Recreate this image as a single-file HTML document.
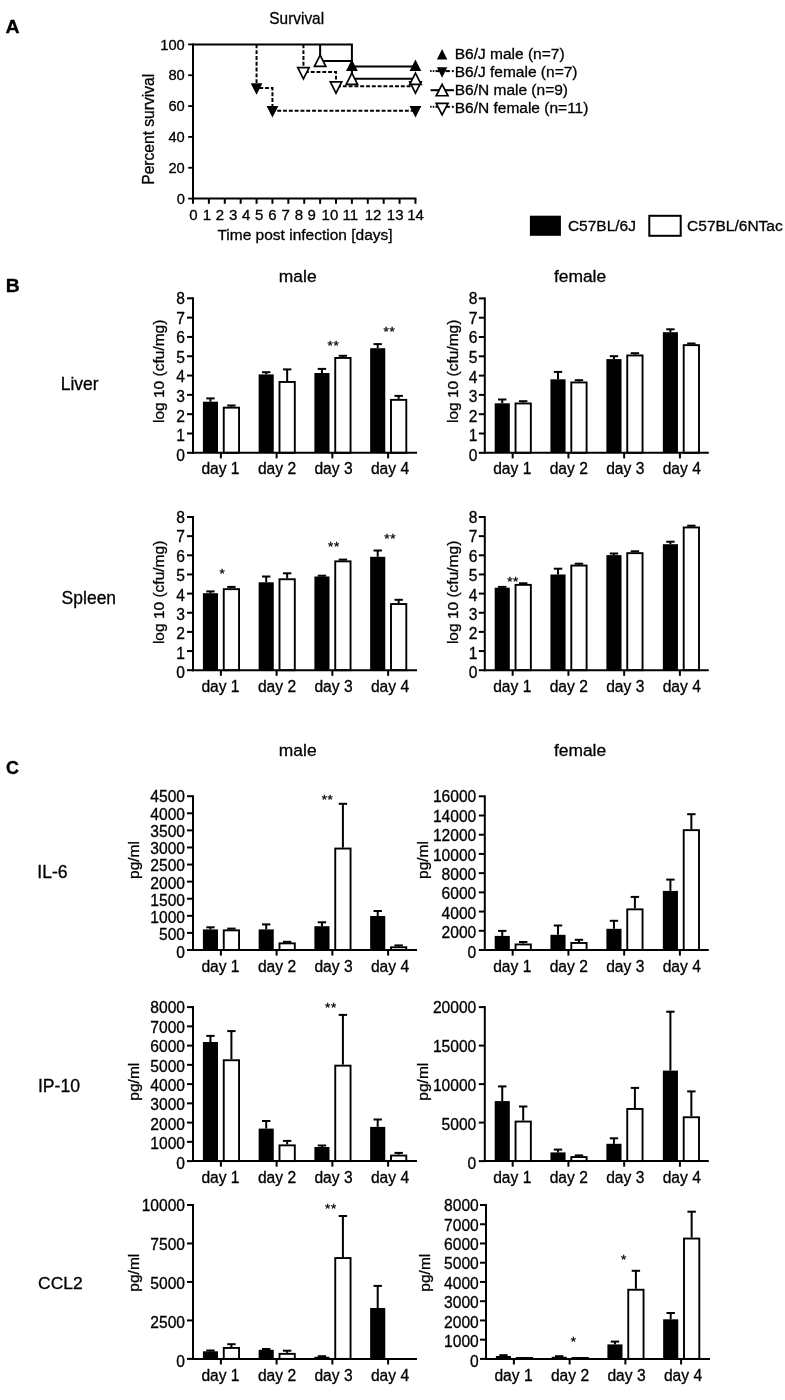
<!DOCTYPE html>
<html lang="en">
<head>
<meta charset="utf-8">
<title>Figure</title>
<style>
html,body{margin:0;padding:0;background:#fff;}
body{width:785px;height:1400px;overflow:hidden;}
svg{display:block;}
svg text{font-family:"Liberation Sans",Arial,Helvetica,sans-serif;fill:#000;stroke:#000;stroke-width:0.3px;}
</style>
</head>
<body>
<svg width="785" height="1400" viewBox="0 0 785 1400">
<rect x="0" y="0" width="785" height="1400" fill="#fff"/>

<text transform="translate(5.50,32.70) scale(1.09,1)" text-anchor="start" font-size="17.9" font-weight="bold">A</text>
<text transform="translate(5.70,292.40) scale(1.08,1)" text-anchor="start" font-size="17.9" font-weight="bold">B</text>
<text transform="translate(6.00,774.00)" text-anchor="start" font-size="17.9" font-weight="bold">C</text>
<g id="panelA">
<text transform="translate(296.70,23.80) scale(0.922,1)" text-anchor="middle" font-size="16.7">Survival</text>
<polyline points="256.56,44.40 256.56,88.10 272.45,88.10 272.45,110.70 415.46,110.70" fill="none" stroke="#000" stroke-width="2.0" stroke-linejoin="miter" stroke-dasharray="3.9 1.9"/>
<polyline points="303.44,44.40 303.44,71.90 336.01,71.90 336.01,86.20 415.46,86.20" fill="none" stroke="#000" stroke-width="2.0" stroke-linejoin="miter" stroke-dasharray="3.9 1.9"/>
<polyline points="320.12,44.40 320.12,60.90 351.90,60.90 351.90,78.80 415.46,78.80" fill="none" stroke="#000" stroke-width="2.0" stroke-linejoin="miter"/>
<polyline points="193.00,44.40 351.90,44.40 351.90,66.40 415.46,66.40" fill="none" stroke="#000" stroke-width="2.0" stroke-linejoin="miter"/>
<polygon points="250.66,83.35 262.46,83.35 256.56,94.85" fill="#000"/>
<polygon points="266.55,105.95 278.35,105.95 272.45,117.45" fill="#000"/>
<polygon points="409.56,105.95 421.36,105.95 415.46,117.45" fill="#000"/>
<polygon points="297.74,67.60 309.14,67.60 303.44,78.80" fill="#fff" stroke="#000" stroke-width="1.7" stroke-linejoin="miter"/>
<polygon points="330.31,81.90 341.71,81.90 336.01,93.10" fill="#fff" stroke="#000" stroke-width="1.7" stroke-linejoin="miter"/>
<polygon points="409.76,81.90 421.16,81.90 415.46,93.10" fill="#fff" stroke="#000" stroke-width="1.7" stroke-linejoin="miter"/>
<polygon points="314.42,66.40 325.82,66.40 320.12,55.20" fill="#fff" stroke="#000" stroke-width="1.7" stroke-linejoin="miter"/>
<polygon points="346.20,84.30 357.60,84.30 351.90,73.10" fill="#fff" stroke="#000" stroke-width="1.7" stroke-linejoin="miter"/>
<polygon points="409.76,84.30 421.16,84.30 415.46,73.10" fill="#fff" stroke="#000" stroke-width="1.7" stroke-linejoin="miter"/>
<polygon points="346.00,70.95 357.80,70.95 351.90,59.45" fill="#000"/>
<polygon points="409.56,70.95 421.36,70.95 415.46,59.45" fill="#000"/>
<line x1="193.00" y1="43.40" x2="193.00" y2="199.60" stroke="#000" stroke-width="2.0" stroke-linecap="butt"/>
<line x1="192.00" y1="198.60" x2="416.46" y2="198.60" stroke="#000" stroke-width="2.0" stroke-linecap="butt"/>
<line x1="188.20" y1="198.60" x2="193.00" y2="198.60" stroke="#000" stroke-width="1.8" stroke-linecap="butt"/>
<text transform="translate(184.80,203.80)" text-anchor="end" font-size="14.7">0</text>
<line x1="188.20" y1="167.76" x2="193.00" y2="167.76" stroke="#000" stroke-width="1.8" stroke-linecap="butt"/>
<text transform="translate(184.80,172.96)" text-anchor="end" font-size="14.7">20</text>
<line x1="188.20" y1="136.92" x2="193.00" y2="136.92" stroke="#000" stroke-width="1.8" stroke-linecap="butt"/>
<text transform="translate(184.80,142.12)" text-anchor="end" font-size="14.7">40</text>
<line x1="188.20" y1="106.08" x2="193.00" y2="106.08" stroke="#000" stroke-width="1.8" stroke-linecap="butt"/>
<text transform="translate(184.80,111.28)" text-anchor="end" font-size="14.7">60</text>
<line x1="188.20" y1="75.24" x2="193.00" y2="75.24" stroke="#000" stroke-width="1.8" stroke-linecap="butt"/>
<text transform="translate(184.80,80.44)" text-anchor="end" font-size="14.7">80</text>
<line x1="188.20" y1="44.40" x2="193.00" y2="44.40" stroke="#000" stroke-width="1.8" stroke-linecap="butt"/>
<text transform="translate(184.80,49.60)" text-anchor="end" font-size="14.7">100</text>
<line x1="193.00" y1="198.60" x2="193.00" y2="203.80" stroke="#000" stroke-width="2.0" stroke-linecap="butt"/>
<line x1="208.89" y1="198.60" x2="208.89" y2="203.80" stroke="#000" stroke-width="2.0" stroke-linecap="butt"/>
<line x1="224.78" y1="198.60" x2="224.78" y2="203.80" stroke="#000" stroke-width="2.0" stroke-linecap="butt"/>
<line x1="240.67" y1="198.60" x2="240.67" y2="203.80" stroke="#000" stroke-width="2.0" stroke-linecap="butt"/>
<line x1="256.56" y1="198.60" x2="256.56" y2="203.80" stroke="#000" stroke-width="2.0" stroke-linecap="butt"/>
<line x1="272.45" y1="198.60" x2="272.45" y2="203.80" stroke="#000" stroke-width="2.0" stroke-linecap="butt"/>
<line x1="288.34" y1="198.60" x2="288.34" y2="203.80" stroke="#000" stroke-width="2.0" stroke-linecap="butt"/>
<line x1="304.23" y1="198.60" x2="304.23" y2="203.80" stroke="#000" stroke-width="2.0" stroke-linecap="butt"/>
<line x1="320.12" y1="198.60" x2="320.12" y2="203.80" stroke="#000" stroke-width="2.0" stroke-linecap="butt"/>
<line x1="336.01" y1="198.60" x2="336.01" y2="203.80" stroke="#000" stroke-width="2.0" stroke-linecap="butt"/>
<line x1="351.90" y1="198.60" x2="351.90" y2="203.80" stroke="#000" stroke-width="2.0" stroke-linecap="butt"/>
<line x1="367.79" y1="198.60" x2="367.79" y2="203.80" stroke="#000" stroke-width="2.0" stroke-linecap="butt"/>
<line x1="383.68" y1="198.60" x2="383.68" y2="203.80" stroke="#000" stroke-width="2.0" stroke-linecap="butt"/>
<line x1="399.57" y1="198.60" x2="399.57" y2="203.80" stroke="#000" stroke-width="2.0" stroke-linecap="butt"/>
<line x1="415.46" y1="198.60" x2="415.46" y2="203.80" stroke="#000" stroke-width="2.0" stroke-linecap="butt"/>
<text transform="translate(193.40,220.40)" text-anchor="middle" font-size="15.0">0</text>
<text transform="translate(206.80,220.40)" text-anchor="middle" font-size="15.0">1</text>
<text transform="translate(220.00,220.40)" text-anchor="middle" font-size="15.0">2</text>
<text transform="translate(233.20,220.40)" text-anchor="middle" font-size="15.0">3</text>
<text transform="translate(246.20,220.40)" text-anchor="middle" font-size="15.0">4</text>
<text transform="translate(259.20,220.40)" text-anchor="middle" font-size="15.0">5</text>
<text transform="translate(272.40,220.40)" text-anchor="middle" font-size="15.0">6</text>
<text transform="translate(285.60,220.40)" text-anchor="middle" font-size="15.0">7</text>
<text transform="translate(298.80,220.40)" text-anchor="middle" font-size="15.0">8</text>
<text transform="translate(311.60,220.40)" text-anchor="middle" font-size="15.0">9</text>
<text transform="translate(329.90,220.40)" text-anchor="middle" font-size="15.0">10</text>
<text transform="translate(350.20,220.40)" text-anchor="middle" font-size="15.0">11</text>
<text transform="translate(373.00,220.40)" text-anchor="middle" font-size="15.0">12</text>
<text transform="translate(395.20,220.40)" text-anchor="middle" font-size="15.0">13</text>
<text transform="translate(415.60,220.40)" text-anchor="middle" font-size="15.0">14</text>
<text transform="translate(305.00,239.50)" text-anchor="middle" font-size="15.5">Time post infection [days]</text>
<text transform="translate(153.70,129.30) rotate(-90)" text-anchor="middle" font-size="15.6">Percent survival</text>
<polygon points="436.90,59.50 447.30,59.50 442.10,49.10" fill="#000"/>
<text transform="translate(454.70,59.20)" text-anchor="start" font-size="15.5">B6/J male (n=7)</text>
<line x1="430.20" y1="71.10" x2="431.60" y2="71.10" stroke="#000" stroke-width="2.0" stroke-linecap="butt"/>
<line x1="432.80" y1="71.10" x2="434.30" y2="71.10" stroke="#000" stroke-width="2.0" stroke-linecap="butt"/>
<line x1="435.50" y1="71.10" x2="439.50" y2="71.10" stroke="#000" stroke-width="2.0" stroke-linecap="butt"/>
<line x1="445.50" y1="71.10" x2="449.90" y2="71.10" stroke="#000" stroke-width="2.0" stroke-linecap="butt"/>
<line x1="451.80" y1="71.10" x2="453.80" y2="71.10" stroke="#000" stroke-width="2.0" stroke-linecap="butt"/>
<polygon points="436.90,67.30 447.30,67.30 442.10,77.70" fill="#000"/>
<text transform="translate(454.70,77.00)" text-anchor="start" font-size="15.5">B6/J female (n=7)</text>
<line x1="430.60" y1="90.20" x2="454.00" y2="90.20" stroke="#000" stroke-width="2.0" stroke-linecap="butt"/>
<polygon points="436.20,95.75 448.00,95.75 442.10,84.25" fill="#fff" stroke="#000" stroke-width="1.7" stroke-linejoin="miter"/>
<text transform="translate(454.70,94.90)" text-anchor="start" font-size="15.5">B6/N male (n=9)</text>
<line x1="430.20" y1="106.80" x2="431.60" y2="106.80" stroke="#000" stroke-width="2.0" stroke-linecap="butt"/>
<line x1="432.80" y1="106.80" x2="434.30" y2="106.80" stroke="#000" stroke-width="2.0" stroke-linecap="butt"/>
<line x1="435.50" y1="106.80" x2="439.50" y2="106.80" stroke="#000" stroke-width="2.0" stroke-linecap="butt"/>
<line x1="445.50" y1="106.80" x2="449.90" y2="106.80" stroke="#000" stroke-width="2.0" stroke-linecap="butt"/>
<line x1="451.80" y1="106.80" x2="453.80" y2="106.80" stroke="#000" stroke-width="2.0" stroke-linecap="butt"/>
<polygon points="436.20,103.35 448.00,103.35 442.10,114.85" fill="#fff" stroke="#000" stroke-width="1.7" stroke-linejoin="miter"/>
<text transform="translate(454.70,112.70)" text-anchor="start" font-size="15.5">B6/N female (n=11)</text>
</g>
<g id="strainLegend">
<rect x="529.90" y="215.70" width="31.00" height="20.10" fill="#000"/>
<rect x="649.30" y="215.80" width="31.40" height="20.00" fill="#fff" stroke="#000" stroke-width="2.0"/>
<text transform="translate(567.90,231.30)" text-anchor="start" font-size="15.5">C57BL/6J</text>
<text transform="translate(687.10,231.30)" text-anchor="start" font-size="15.5">C57BL/6NTac</text>
</g>
<g id="panelB">
<text transform="translate(297.70,281.70)" text-anchor="middle" font-size="17.4">male</text>
<text transform="translate(580.00,281.70)" text-anchor="middle" font-size="17.4">female</text>
<text transform="translate(60.70,389.50)" text-anchor="start" font-size="17.5">Liver</text>
<text transform="translate(61.60,604.00)" text-anchor="start" font-size="17.5">Spleen</text>
<line x1="210.45" y1="401.70" x2="210.45" y2="398.40" stroke="#000" stroke-width="2.0" stroke-linecap="butt"/>
<line x1="206.25" y1="398.40" x2="214.65" y2="398.40" stroke="#000" stroke-width="2.0" stroke-linecap="butt"/>
<rect x="202.90" y="401.70" width="15.10" height="51.10" fill="#000"/>
<line x1="231.40" y1="406.70" x2="231.40" y2="405.50" stroke="#000" stroke-width="2.0" stroke-linecap="butt"/>
<line x1="227.20" y1="405.50" x2="235.60" y2="405.50" stroke="#000" stroke-width="2.0" stroke-linecap="butt"/>
<rect x="223.75" y="407.65" width="15.30" height="45.15" fill="#fff" stroke="#000" stroke-width="1.9"/>
<line x1="266.20" y1="374.40" x2="266.20" y2="372.20" stroke="#000" stroke-width="2.0" stroke-linecap="butt"/>
<line x1="262.00" y1="372.20" x2="270.40" y2="372.20" stroke="#000" stroke-width="2.0" stroke-linecap="butt"/>
<rect x="258.65" y="374.40" width="15.10" height="78.40" fill="#000"/>
<line x1="287.15" y1="381.00" x2="287.15" y2="369.40" stroke="#000" stroke-width="2.0" stroke-linecap="butt"/>
<line x1="282.95" y1="369.40" x2="291.35" y2="369.40" stroke="#000" stroke-width="2.0" stroke-linecap="butt"/>
<rect x="279.50" y="381.95" width="15.30" height="70.85" fill="#fff" stroke="#000" stroke-width="1.9"/>
<line x1="321.95" y1="373.00" x2="321.95" y2="368.90" stroke="#000" stroke-width="2.0" stroke-linecap="butt"/>
<line x1="317.75" y1="368.90" x2="326.15" y2="368.90" stroke="#000" stroke-width="2.0" stroke-linecap="butt"/>
<rect x="314.40" y="373.00" width="15.10" height="79.80" fill="#000"/>
<line x1="342.90" y1="357.00" x2="342.90" y2="355.80" stroke="#000" stroke-width="2.0" stroke-linecap="butt"/>
<line x1="338.70" y1="355.80" x2="347.10" y2="355.80" stroke="#000" stroke-width="2.0" stroke-linecap="butt"/>
<rect x="335.25" y="357.95" width="15.30" height="94.85" fill="#fff" stroke="#000" stroke-width="1.9"/>
<line x1="377.70" y1="348.20" x2="377.70" y2="344.10" stroke="#000" stroke-width="2.0" stroke-linecap="butt"/>
<line x1="373.50" y1="344.10" x2="381.90" y2="344.10" stroke="#000" stroke-width="2.0" stroke-linecap="butt"/>
<rect x="370.15" y="348.20" width="15.10" height="104.60" fill="#000"/>
<line x1="398.65" y1="398.90" x2="398.65" y2="395.90" stroke="#000" stroke-width="2.0" stroke-linecap="butt"/>
<line x1="394.45" y1="395.90" x2="402.85" y2="395.90" stroke="#000" stroke-width="2.0" stroke-linecap="butt"/>
<rect x="391.00" y="399.85" width="15.30" height="52.95" fill="#fff" stroke="#000" stroke-width="1.9"/>
<line x1="193.00" y1="297.30" x2="193.00" y2="453.80" stroke="#000" stroke-width="2.0" stroke-linecap="butt"/>
<line x1="192.00" y1="452.80" x2="417.00" y2="452.80" stroke="#000" stroke-width="2.0" stroke-linecap="butt"/>
<line x1="187.00" y1="452.80" x2="193.00" y2="452.80" stroke="#000" stroke-width="2.0" stroke-linecap="butt"/>
<text transform="translate(185.00,460.55)" text-anchor="end" font-size="15.6">0</text>
<line x1="187.00" y1="433.49" x2="193.00" y2="433.49" stroke="#000" stroke-width="2.0" stroke-linecap="butt"/>
<text transform="translate(185.00,441.03)" text-anchor="end" font-size="15.6">1</text>
<line x1="187.00" y1="414.18" x2="193.00" y2="414.18" stroke="#000" stroke-width="2.0" stroke-linecap="butt"/>
<text transform="translate(185.00,421.50)" text-anchor="end" font-size="15.6">2</text>
<line x1="187.00" y1="394.86" x2="193.00" y2="394.86" stroke="#000" stroke-width="2.0" stroke-linecap="butt"/>
<text transform="translate(185.00,401.98)" text-anchor="end" font-size="15.6">3</text>
<line x1="187.00" y1="375.55" x2="193.00" y2="375.55" stroke="#000" stroke-width="2.0" stroke-linecap="butt"/>
<text transform="translate(185.00,382.45)" text-anchor="end" font-size="15.6">4</text>
<line x1="187.00" y1="356.24" x2="193.00" y2="356.24" stroke="#000" stroke-width="2.0" stroke-linecap="butt"/>
<text transform="translate(185.00,362.93)" text-anchor="end" font-size="15.6">5</text>
<line x1="187.00" y1="336.93" x2="193.00" y2="336.93" stroke="#000" stroke-width="2.0" stroke-linecap="butt"/>
<text transform="translate(185.00,343.40)" text-anchor="end" font-size="15.6">6</text>
<line x1="187.00" y1="317.61" x2="193.00" y2="317.61" stroke="#000" stroke-width="2.0" stroke-linecap="butt"/>
<text transform="translate(185.00,323.88)" text-anchor="end" font-size="15.6">7</text>
<line x1="187.00" y1="298.30" x2="193.00" y2="298.30" stroke="#000" stroke-width="2.0" stroke-linecap="butt"/>
<text transform="translate(185.00,304.35)" text-anchor="end" font-size="15.6">8</text>
<line x1="220.88" y1="452.80" x2="220.88" y2="458.40" stroke="#000" stroke-width="2.0" stroke-linecap="butt"/>
<text transform="translate(220.47,474.40)" text-anchor="middle" font-size="15.6">day 1</text>
<line x1="276.62" y1="452.80" x2="276.62" y2="458.40" stroke="#000" stroke-width="2.0" stroke-linecap="butt"/>
<text transform="translate(276.98,474.40)" text-anchor="middle" font-size="15.6">day 2</text>
<line x1="332.38" y1="452.80" x2="332.38" y2="458.40" stroke="#000" stroke-width="2.0" stroke-linecap="butt"/>
<text transform="translate(333.48,474.40)" text-anchor="middle" font-size="15.6">day 3</text>
<line x1="388.12" y1="452.80" x2="388.12" y2="458.40" stroke="#000" stroke-width="2.0" stroke-linecap="butt"/>
<text transform="translate(389.98,474.40)" text-anchor="middle" font-size="15.6">day 4</text>
<text transform="translate(333.50,350.10)" text-anchor="middle" font-size="13.5" letter-spacing="0.7">**</text>
<text transform="translate(389.50,336.10)" text-anchor="middle" font-size="13.5" letter-spacing="0.7">**</text>
<text transform="translate(164.40,371.30) rotate(-90)" text-anchor="middle" font-size="15.5">log 10 (cfu/mg)</text>
<line x1="502.25" y1="403.30" x2="502.25" y2="399.50" stroke="#000" stroke-width="2.0" stroke-linecap="butt"/>
<line x1="498.05" y1="399.50" x2="506.45" y2="399.50" stroke="#000" stroke-width="2.0" stroke-linecap="butt"/>
<rect x="494.70" y="403.30" width="15.10" height="49.50" fill="#000"/>
<line x1="523.20" y1="402.50" x2="523.20" y2="401.20" stroke="#000" stroke-width="2.0" stroke-linecap="butt"/>
<line x1="519.00" y1="401.20" x2="527.40" y2="401.20" stroke="#000" stroke-width="2.0" stroke-linecap="butt"/>
<rect x="515.55" y="403.45" width="15.30" height="49.35" fill="#fff" stroke="#000" stroke-width="1.9"/>
<line x1="558.00" y1="379.30" x2="558.00" y2="371.90" stroke="#000" stroke-width="2.0" stroke-linecap="butt"/>
<line x1="553.80" y1="371.90" x2="562.20" y2="371.90" stroke="#000" stroke-width="2.0" stroke-linecap="butt"/>
<rect x="550.45" y="379.30" width="15.10" height="73.50" fill="#000"/>
<line x1="578.95" y1="381.50" x2="578.95" y2="380.20" stroke="#000" stroke-width="2.0" stroke-linecap="butt"/>
<line x1="574.75" y1="380.20" x2="583.15" y2="380.20" stroke="#000" stroke-width="2.0" stroke-linecap="butt"/>
<rect x="571.30" y="382.45" width="15.30" height="70.35" fill="#fff" stroke="#000" stroke-width="1.9"/>
<line x1="613.95" y1="359.10" x2="613.95" y2="356.20" stroke="#000" stroke-width="2.0" stroke-linecap="butt"/>
<line x1="609.75" y1="356.20" x2="618.15" y2="356.20" stroke="#000" stroke-width="2.0" stroke-linecap="butt"/>
<rect x="606.40" y="359.10" width="15.10" height="93.70" fill="#000"/>
<line x1="634.90" y1="354.50" x2="634.90" y2="353.20" stroke="#000" stroke-width="2.0" stroke-linecap="butt"/>
<line x1="630.70" y1="353.20" x2="639.10" y2="353.20" stroke="#000" stroke-width="2.0" stroke-linecap="butt"/>
<rect x="627.25" y="355.45" width="15.30" height="97.35" fill="#fff" stroke="#000" stroke-width="1.9"/>
<line x1="670.40" y1="332.20" x2="670.40" y2="329.30" stroke="#000" stroke-width="2.0" stroke-linecap="butt"/>
<line x1="666.20" y1="329.30" x2="674.60" y2="329.30" stroke="#000" stroke-width="2.0" stroke-linecap="butt"/>
<rect x="662.85" y="332.20" width="15.10" height="120.60" fill="#000"/>
<line x1="691.35" y1="344.20" x2="691.35" y2="343.50" stroke="#000" stroke-width="2.0" stroke-linecap="butt"/>
<line x1="687.15" y1="343.50" x2="695.55" y2="343.50" stroke="#000" stroke-width="2.0" stroke-linecap="butt"/>
<rect x="683.70" y="345.15" width="15.30" height="107.65" fill="#fff" stroke="#000" stroke-width="1.9"/>
<line x1="484.80" y1="297.40" x2="484.80" y2="453.80" stroke="#000" stroke-width="2.0" stroke-linecap="butt"/>
<line x1="483.80" y1="452.80" x2="708.80" y2="452.80" stroke="#000" stroke-width="2.0" stroke-linecap="butt"/>
<line x1="478.80" y1="452.80" x2="484.80" y2="452.80" stroke="#000" stroke-width="2.0" stroke-linecap="butt"/>
<text transform="translate(477.50,460.55)" text-anchor="end" font-size="15.6">0</text>
<line x1="478.80" y1="433.50" x2="484.80" y2="433.50" stroke="#000" stroke-width="2.0" stroke-linecap="butt"/>
<text transform="translate(477.50,441.04)" text-anchor="end" font-size="15.6">1</text>
<line x1="478.80" y1="414.20" x2="484.80" y2="414.20" stroke="#000" stroke-width="2.0" stroke-linecap="butt"/>
<text transform="translate(477.50,421.52)" text-anchor="end" font-size="15.6">2</text>
<line x1="478.80" y1="394.90" x2="484.80" y2="394.90" stroke="#000" stroke-width="2.0" stroke-linecap="butt"/>
<text transform="translate(477.50,402.01)" text-anchor="end" font-size="15.6">3</text>
<line x1="478.80" y1="375.60" x2="484.80" y2="375.60" stroke="#000" stroke-width="2.0" stroke-linecap="butt"/>
<text transform="translate(477.50,382.50)" text-anchor="end" font-size="15.6">4</text>
<line x1="478.80" y1="356.30" x2="484.80" y2="356.30" stroke="#000" stroke-width="2.0" stroke-linecap="butt"/>
<text transform="translate(477.50,362.99)" text-anchor="end" font-size="15.6">5</text>
<line x1="478.80" y1="337.00" x2="484.80" y2="337.00" stroke="#000" stroke-width="2.0" stroke-linecap="butt"/>
<text transform="translate(477.50,343.48)" text-anchor="end" font-size="15.6">6</text>
<line x1="478.80" y1="317.70" x2="484.80" y2="317.70" stroke="#000" stroke-width="2.0" stroke-linecap="butt"/>
<text transform="translate(477.50,323.96)" text-anchor="end" font-size="15.6">7</text>
<line x1="478.80" y1="298.40" x2="484.80" y2="298.40" stroke="#000" stroke-width="2.0" stroke-linecap="butt"/>
<text transform="translate(477.50,304.45)" text-anchor="end" font-size="15.6">8</text>
<line x1="512.67" y1="452.80" x2="512.67" y2="458.40" stroke="#000" stroke-width="2.0" stroke-linecap="butt"/>
<text transform="translate(512.27,474.40)" text-anchor="middle" font-size="15.6">day 1</text>
<line x1="568.42" y1="452.80" x2="568.42" y2="458.40" stroke="#000" stroke-width="2.0" stroke-linecap="butt"/>
<text transform="translate(568.77,474.40)" text-anchor="middle" font-size="15.6">day 2</text>
<line x1="624.17" y1="452.80" x2="624.17" y2="458.40" stroke="#000" stroke-width="2.0" stroke-linecap="butt"/>
<text transform="translate(625.27,474.40)" text-anchor="middle" font-size="15.6">day 3</text>
<line x1="679.92" y1="452.80" x2="679.92" y2="458.40" stroke="#000" stroke-width="2.0" stroke-linecap="butt"/>
<text transform="translate(681.77,474.40)" text-anchor="middle" font-size="15.6">day 4</text>
<text transform="translate(457.60,371.30) rotate(-90)" text-anchor="middle" font-size="15.5">log 10 (cfu/mg)</text>
<line x1="210.45" y1="593.20" x2="210.45" y2="591.40" stroke="#000" stroke-width="2.0" stroke-linecap="butt"/>
<line x1="206.25" y1="591.40" x2="214.65" y2="591.40" stroke="#000" stroke-width="2.0" stroke-linecap="butt"/>
<rect x="202.90" y="593.20" width="15.10" height="77.00" fill="#000"/>
<line x1="231.40" y1="588.20" x2="231.40" y2="586.90" stroke="#000" stroke-width="2.0" stroke-linecap="butt"/>
<line x1="227.20" y1="586.90" x2="235.60" y2="586.90" stroke="#000" stroke-width="2.0" stroke-linecap="butt"/>
<rect x="223.75" y="589.15" width="15.30" height="81.05" fill="#fff" stroke="#000" stroke-width="1.9"/>
<line x1="266.20" y1="582.30" x2="266.20" y2="576.50" stroke="#000" stroke-width="2.0" stroke-linecap="butt"/>
<line x1="262.00" y1="576.50" x2="270.40" y2="576.50" stroke="#000" stroke-width="2.0" stroke-linecap="butt"/>
<rect x="258.65" y="582.30" width="15.10" height="87.90" fill="#000"/>
<line x1="287.15" y1="578.30" x2="287.15" y2="573.30" stroke="#000" stroke-width="2.0" stroke-linecap="butt"/>
<line x1="282.95" y1="573.30" x2="291.35" y2="573.30" stroke="#000" stroke-width="2.0" stroke-linecap="butt"/>
<rect x="279.50" y="579.25" width="15.30" height="90.95" fill="#fff" stroke="#000" stroke-width="1.9"/>
<line x1="321.95" y1="576.50" x2="321.95" y2="575.70" stroke="#000" stroke-width="2.0" stroke-linecap="butt"/>
<line x1="317.75" y1="575.70" x2="326.15" y2="575.70" stroke="#000" stroke-width="2.0" stroke-linecap="butt"/>
<rect x="314.40" y="576.50" width="15.10" height="93.70" fill="#000"/>
<line x1="342.90" y1="560.40" x2="342.90" y2="559.60" stroke="#000" stroke-width="2.0" stroke-linecap="butt"/>
<line x1="338.70" y1="559.60" x2="347.10" y2="559.60" stroke="#000" stroke-width="2.0" stroke-linecap="butt"/>
<rect x="335.25" y="561.35" width="15.30" height="108.85" fill="#fff" stroke="#000" stroke-width="1.9"/>
<line x1="377.70" y1="556.80" x2="377.70" y2="550.50" stroke="#000" stroke-width="2.0" stroke-linecap="butt"/>
<line x1="373.50" y1="550.50" x2="381.90" y2="550.50" stroke="#000" stroke-width="2.0" stroke-linecap="butt"/>
<rect x="370.15" y="556.80" width="15.10" height="113.40" fill="#000"/>
<line x1="398.65" y1="603.10" x2="398.65" y2="599.80" stroke="#000" stroke-width="2.0" stroke-linecap="butt"/>
<line x1="394.45" y1="599.80" x2="402.85" y2="599.80" stroke="#000" stroke-width="2.0" stroke-linecap="butt"/>
<rect x="391.00" y="604.05" width="15.30" height="66.15" fill="#fff" stroke="#000" stroke-width="1.9"/>
<line x1="193.00" y1="516.00" x2="193.00" y2="671.20" stroke="#000" stroke-width="2.0" stroke-linecap="butt"/>
<line x1="192.00" y1="670.20" x2="417.00" y2="670.20" stroke="#000" stroke-width="2.0" stroke-linecap="butt"/>
<line x1="187.00" y1="670.20" x2="193.00" y2="670.20" stroke="#000" stroke-width="2.0" stroke-linecap="butt"/>
<text transform="translate(185.00,677.95)" text-anchor="end" font-size="15.6">0</text>
<line x1="187.00" y1="651.05" x2="193.00" y2="651.05" stroke="#000" stroke-width="2.0" stroke-linecap="butt"/>
<text transform="translate(185.00,658.59)" text-anchor="end" font-size="15.6">1</text>
<line x1="187.00" y1="631.90" x2="193.00" y2="631.90" stroke="#000" stroke-width="2.0" stroke-linecap="butt"/>
<text transform="translate(185.00,639.23)" text-anchor="end" font-size="15.6">2</text>
<line x1="187.00" y1="612.75" x2="193.00" y2="612.75" stroke="#000" stroke-width="2.0" stroke-linecap="butt"/>
<text transform="translate(185.00,619.86)" text-anchor="end" font-size="15.6">3</text>
<line x1="187.00" y1="593.60" x2="193.00" y2="593.60" stroke="#000" stroke-width="2.0" stroke-linecap="butt"/>
<text transform="translate(185.00,600.50)" text-anchor="end" font-size="15.6">4</text>
<line x1="187.00" y1="574.45" x2="193.00" y2="574.45" stroke="#000" stroke-width="2.0" stroke-linecap="butt"/>
<text transform="translate(185.00,581.14)" text-anchor="end" font-size="15.6">5</text>
<line x1="187.00" y1="555.30" x2="193.00" y2="555.30" stroke="#000" stroke-width="2.0" stroke-linecap="butt"/>
<text transform="translate(185.00,561.77)" text-anchor="end" font-size="15.6">6</text>
<line x1="187.00" y1="536.15" x2="193.00" y2="536.15" stroke="#000" stroke-width="2.0" stroke-linecap="butt"/>
<text transform="translate(185.00,542.41)" text-anchor="end" font-size="15.6">7</text>
<line x1="187.00" y1="517.00" x2="193.00" y2="517.00" stroke="#000" stroke-width="2.0" stroke-linecap="butt"/>
<text transform="translate(185.00,523.05)" text-anchor="end" font-size="15.6">8</text>
<line x1="220.88" y1="670.20" x2="220.88" y2="675.80" stroke="#000" stroke-width="2.0" stroke-linecap="butt"/>
<text transform="translate(220.47,691.80)" text-anchor="middle" font-size="15.6">day 1</text>
<line x1="276.62" y1="670.20" x2="276.62" y2="675.80" stroke="#000" stroke-width="2.0" stroke-linecap="butt"/>
<text transform="translate(276.98,691.80)" text-anchor="middle" font-size="15.6">day 2</text>
<line x1="332.38" y1="670.20" x2="332.38" y2="675.80" stroke="#000" stroke-width="2.0" stroke-linecap="butt"/>
<text transform="translate(333.48,691.80)" text-anchor="middle" font-size="15.6">day 3</text>
<line x1="388.12" y1="670.20" x2="388.12" y2="675.80" stroke="#000" stroke-width="2.0" stroke-linecap="butt"/>
<text transform="translate(389.98,691.80)" text-anchor="middle" font-size="15.6">day 4</text>
<text transform="translate(222.60,577.90)" text-anchor="middle" font-size="13.5" letter-spacing="0.7">*</text>
<text transform="translate(334.00,551.40)" text-anchor="middle" font-size="13.5" letter-spacing="0.7">**</text>
<text transform="translate(390.30,543.20)" text-anchor="middle" font-size="13.5" letter-spacing="0.7">**</text>
<text transform="translate(164.40,592.40) rotate(-90)" text-anchor="middle" font-size="15.5">log 10 (cfu/mg)</text>
<line x1="502.25" y1="587.70" x2="502.25" y2="586.90" stroke="#000" stroke-width="2.0" stroke-linecap="butt"/>
<line x1="498.05" y1="586.90" x2="506.45" y2="586.90" stroke="#000" stroke-width="2.0" stroke-linecap="butt"/>
<rect x="494.70" y="587.70" width="15.10" height="82.50" fill="#000"/>
<line x1="523.20" y1="583.90" x2="523.20" y2="583.30" stroke="#000" stroke-width="2.0" stroke-linecap="butt"/>
<line x1="519.00" y1="583.30" x2="527.40" y2="583.30" stroke="#000" stroke-width="2.0" stroke-linecap="butt"/>
<rect x="515.55" y="584.85" width="15.30" height="85.35" fill="#fff" stroke="#000" stroke-width="1.9"/>
<line x1="558.00" y1="574.50" x2="558.00" y2="568.70" stroke="#000" stroke-width="2.0" stroke-linecap="butt"/>
<line x1="553.80" y1="568.70" x2="562.20" y2="568.70" stroke="#000" stroke-width="2.0" stroke-linecap="butt"/>
<rect x="550.45" y="574.50" width="15.10" height="95.70" fill="#000"/>
<line x1="578.95" y1="564.60" x2="578.95" y2="563.70" stroke="#000" stroke-width="2.0" stroke-linecap="butt"/>
<line x1="574.75" y1="563.70" x2="583.15" y2="563.70" stroke="#000" stroke-width="2.0" stroke-linecap="butt"/>
<rect x="571.30" y="565.55" width="15.30" height="104.65" fill="#fff" stroke="#000" stroke-width="1.9"/>
<line x1="613.95" y1="555.10" x2="613.95" y2="553.50" stroke="#000" stroke-width="2.0" stroke-linecap="butt"/>
<line x1="609.75" y1="553.50" x2="618.15" y2="553.50" stroke="#000" stroke-width="2.0" stroke-linecap="butt"/>
<rect x="606.40" y="555.10" width="15.10" height="115.10" fill="#000"/>
<line x1="634.90" y1="552.20" x2="634.90" y2="551.30" stroke="#000" stroke-width="2.0" stroke-linecap="butt"/>
<line x1="630.70" y1="551.30" x2="639.10" y2="551.30" stroke="#000" stroke-width="2.0" stroke-linecap="butt"/>
<rect x="627.25" y="553.15" width="15.30" height="117.05" fill="#fff" stroke="#000" stroke-width="1.9"/>
<line x1="670.40" y1="544.20" x2="670.40" y2="541.70" stroke="#000" stroke-width="2.0" stroke-linecap="butt"/>
<line x1="666.20" y1="541.70" x2="674.60" y2="541.70" stroke="#000" stroke-width="2.0" stroke-linecap="butt"/>
<rect x="662.85" y="544.20" width="15.10" height="126.00" fill="#000"/>
<line x1="691.35" y1="526.50" x2="691.35" y2="525.70" stroke="#000" stroke-width="2.0" stroke-linecap="butt"/>
<line x1="687.15" y1="525.70" x2="695.55" y2="525.70" stroke="#000" stroke-width="2.0" stroke-linecap="butt"/>
<rect x="683.70" y="527.45" width="15.30" height="142.75" fill="#fff" stroke="#000" stroke-width="1.9"/>
<line x1="484.80" y1="516.00" x2="484.80" y2="671.20" stroke="#000" stroke-width="2.0" stroke-linecap="butt"/>
<line x1="483.80" y1="670.20" x2="708.80" y2="670.20" stroke="#000" stroke-width="2.0" stroke-linecap="butt"/>
<line x1="478.80" y1="670.20" x2="484.80" y2="670.20" stroke="#000" stroke-width="2.0" stroke-linecap="butt"/>
<text transform="translate(477.50,677.95)" text-anchor="end" font-size="15.6">0</text>
<line x1="478.80" y1="651.05" x2="484.80" y2="651.05" stroke="#000" stroke-width="2.0" stroke-linecap="butt"/>
<text transform="translate(477.50,658.59)" text-anchor="end" font-size="15.6">1</text>
<line x1="478.80" y1="631.90" x2="484.80" y2="631.90" stroke="#000" stroke-width="2.0" stroke-linecap="butt"/>
<text transform="translate(477.50,639.23)" text-anchor="end" font-size="15.6">2</text>
<line x1="478.80" y1="612.75" x2="484.80" y2="612.75" stroke="#000" stroke-width="2.0" stroke-linecap="butt"/>
<text transform="translate(477.50,619.86)" text-anchor="end" font-size="15.6">3</text>
<line x1="478.80" y1="593.60" x2="484.80" y2="593.60" stroke="#000" stroke-width="2.0" stroke-linecap="butt"/>
<text transform="translate(477.50,600.50)" text-anchor="end" font-size="15.6">4</text>
<line x1="478.80" y1="574.45" x2="484.80" y2="574.45" stroke="#000" stroke-width="2.0" stroke-linecap="butt"/>
<text transform="translate(477.50,581.14)" text-anchor="end" font-size="15.6">5</text>
<line x1="478.80" y1="555.30" x2="484.80" y2="555.30" stroke="#000" stroke-width="2.0" stroke-linecap="butt"/>
<text transform="translate(477.50,561.77)" text-anchor="end" font-size="15.6">6</text>
<line x1="478.80" y1="536.15" x2="484.80" y2="536.15" stroke="#000" stroke-width="2.0" stroke-linecap="butt"/>
<text transform="translate(477.50,542.41)" text-anchor="end" font-size="15.6">7</text>
<line x1="478.80" y1="517.00" x2="484.80" y2="517.00" stroke="#000" stroke-width="2.0" stroke-linecap="butt"/>
<text transform="translate(477.50,523.05)" text-anchor="end" font-size="15.6">8</text>
<line x1="512.67" y1="670.20" x2="512.67" y2="675.80" stroke="#000" stroke-width="2.0" stroke-linecap="butt"/>
<text transform="translate(512.27,691.80)" text-anchor="middle" font-size="15.6">day 1</text>
<line x1="568.42" y1="670.20" x2="568.42" y2="675.80" stroke="#000" stroke-width="2.0" stroke-linecap="butt"/>
<text transform="translate(568.77,691.80)" text-anchor="middle" font-size="15.6">day 2</text>
<line x1="624.17" y1="670.20" x2="624.17" y2="675.80" stroke="#000" stroke-width="2.0" stroke-linecap="butt"/>
<text transform="translate(625.27,691.80)" text-anchor="middle" font-size="15.6">day 3</text>
<line x1="679.92" y1="670.20" x2="679.92" y2="675.80" stroke="#000" stroke-width="2.0" stroke-linecap="butt"/>
<text transform="translate(681.77,691.80)" text-anchor="middle" font-size="15.6">day 4</text>
<text transform="translate(513.10,586.20)" text-anchor="middle" font-size="13.5" letter-spacing="0.7">**</text>
<text transform="translate(457.60,592.40) rotate(-90)" text-anchor="middle" font-size="15.5">log 10 (cfu/mg)</text>
</g>
<g id="panelC">
<text transform="translate(297.70,755.60)" text-anchor="middle" font-size="17.4">male</text>
<text transform="translate(580.00,755.60)" text-anchor="middle" font-size="17.4">female</text>
<text transform="translate(37.30,877.80)" text-anchor="start" font-size="17.6">IL-6</text>
<text transform="translate(37.90,1091.90)" text-anchor="start" font-size="17.6">IP-10</text>
<text transform="translate(38.10,1289.00)" text-anchor="start" font-size="17.4">CCL2</text>
<line x1="210.45" y1="929.40" x2="210.45" y2="927.30" stroke="#000" stroke-width="2.0" stroke-linecap="butt"/>
<line x1="206.25" y1="927.30" x2="214.65" y2="927.30" stroke="#000" stroke-width="2.0" stroke-linecap="butt"/>
<rect x="202.90" y="929.40" width="15.10" height="20.60" fill="#000"/>
<line x1="231.40" y1="929.40" x2="231.40" y2="928.60" stroke="#000" stroke-width="2.0" stroke-linecap="butt"/>
<line x1="227.20" y1="928.60" x2="235.60" y2="928.60" stroke="#000" stroke-width="2.0" stroke-linecap="butt"/>
<rect x="223.75" y="930.35" width="15.30" height="19.65" fill="#fff" stroke="#000" stroke-width="1.9"/>
<line x1="266.20" y1="929.40" x2="266.20" y2="924.40" stroke="#000" stroke-width="2.0" stroke-linecap="butt"/>
<line x1="262.00" y1="924.40" x2="270.40" y2="924.40" stroke="#000" stroke-width="2.0" stroke-linecap="butt"/>
<rect x="258.65" y="929.40" width="15.10" height="20.60" fill="#000"/>
<line x1="287.15" y1="942.40" x2="287.15" y2="941.80" stroke="#000" stroke-width="2.0" stroke-linecap="butt"/>
<line x1="282.95" y1="941.80" x2="291.35" y2="941.80" stroke="#000" stroke-width="2.0" stroke-linecap="butt"/>
<rect x="279.50" y="943.35" width="15.30" height="6.65" fill="#fff" stroke="#000" stroke-width="1.9"/>
<line x1="321.95" y1="926.20" x2="321.95" y2="922.30" stroke="#000" stroke-width="2.0" stroke-linecap="butt"/>
<line x1="317.75" y1="922.30" x2="326.15" y2="922.30" stroke="#000" stroke-width="2.0" stroke-linecap="butt"/>
<rect x="314.40" y="926.20" width="15.10" height="23.80" fill="#000"/>
<line x1="342.90" y1="847.60" x2="342.90" y2="803.80" stroke="#000" stroke-width="2.0" stroke-linecap="butt"/>
<line x1="338.70" y1="803.80" x2="347.10" y2="803.80" stroke="#000" stroke-width="2.0" stroke-linecap="butt"/>
<rect x="335.25" y="848.55" width="15.30" height="101.45" fill="#fff" stroke="#000" stroke-width="1.9"/>
<line x1="377.70" y1="916.00" x2="377.70" y2="911.00" stroke="#000" stroke-width="2.0" stroke-linecap="butt"/>
<line x1="373.50" y1="911.00" x2="381.90" y2="911.00" stroke="#000" stroke-width="2.0" stroke-linecap="butt"/>
<rect x="370.15" y="916.00" width="15.10" height="34.00" fill="#000"/>
<line x1="398.65" y1="946.30" x2="398.65" y2="945.40" stroke="#000" stroke-width="2.0" stroke-linecap="butt"/>
<line x1="394.45" y1="945.40" x2="402.85" y2="945.40" stroke="#000" stroke-width="2.0" stroke-linecap="butt"/>
<rect x="391.00" y="947.25" width="15.30" height="2.75" fill="#fff" stroke="#000" stroke-width="1.9"/>
<line x1="193.00" y1="795.20" x2="193.00" y2="951.00" stroke="#000" stroke-width="2.0" stroke-linecap="butt"/>
<line x1="192.00" y1="950.00" x2="417.00" y2="950.00" stroke="#000" stroke-width="2.0" stroke-linecap="butt"/>
<line x1="187.00" y1="950.00" x2="193.00" y2="950.00" stroke="#000" stroke-width="2.0" stroke-linecap="butt"/>
<text transform="translate(185.00,957.75)" text-anchor="end" font-size="15.6">0</text>
<line x1="187.00" y1="932.91" x2="193.00" y2="932.91" stroke="#000" stroke-width="2.0" stroke-linecap="butt"/>
<text transform="translate(185.00,940.47)" text-anchor="end" font-size="15.6">500</text>
<line x1="187.00" y1="915.82" x2="193.00" y2="915.82" stroke="#000" stroke-width="2.0" stroke-linecap="butt"/>
<text transform="translate(185.00,923.19)" text-anchor="end" font-size="15.6">1000</text>
<line x1="187.00" y1="898.73" x2="193.00" y2="898.73" stroke="#000" stroke-width="2.0" stroke-linecap="butt"/>
<text transform="translate(185.00,905.92)" text-anchor="end" font-size="15.6">1500</text>
<line x1="187.00" y1="881.64" x2="193.00" y2="881.64" stroke="#000" stroke-width="2.0" stroke-linecap="butt"/>
<text transform="translate(185.00,888.64)" text-anchor="end" font-size="15.6">2000</text>
<line x1="187.00" y1="864.56" x2="193.00" y2="864.56" stroke="#000" stroke-width="2.0" stroke-linecap="butt"/>
<text transform="translate(185.00,871.36)" text-anchor="end" font-size="15.6">2500</text>
<line x1="187.00" y1="847.47" x2="193.00" y2="847.47" stroke="#000" stroke-width="2.0" stroke-linecap="butt"/>
<text transform="translate(185.00,854.08)" text-anchor="end" font-size="15.6">3000</text>
<line x1="187.00" y1="830.38" x2="193.00" y2="830.38" stroke="#000" stroke-width="2.0" stroke-linecap="butt"/>
<text transform="translate(185.00,836.81)" text-anchor="end" font-size="15.6">3500</text>
<line x1="187.00" y1="813.29" x2="193.00" y2="813.29" stroke="#000" stroke-width="2.0" stroke-linecap="butt"/>
<text transform="translate(185.00,819.53)" text-anchor="end" font-size="15.6">4000</text>
<line x1="187.00" y1="796.20" x2="193.00" y2="796.20" stroke="#000" stroke-width="2.0" stroke-linecap="butt"/>
<text transform="translate(185.00,802.25)" text-anchor="end" font-size="15.6">4500</text>
<line x1="220.88" y1="950.00" x2="220.88" y2="955.60" stroke="#000" stroke-width="2.0" stroke-linecap="butt"/>
<text transform="translate(220.47,971.60)" text-anchor="middle" font-size="15.6">day 1</text>
<line x1="276.62" y1="950.00" x2="276.62" y2="955.60" stroke="#000" stroke-width="2.0" stroke-linecap="butt"/>
<text transform="translate(276.98,971.60)" text-anchor="middle" font-size="15.6">day 2</text>
<line x1="332.38" y1="950.00" x2="332.38" y2="955.60" stroke="#000" stroke-width="2.0" stroke-linecap="butt"/>
<text transform="translate(333.48,971.60)" text-anchor="middle" font-size="15.6">day 3</text>
<line x1="388.12" y1="950.00" x2="388.12" y2="955.60" stroke="#000" stroke-width="2.0" stroke-linecap="butt"/>
<text transform="translate(389.98,971.60)" text-anchor="middle" font-size="15.6">day 4</text>
<text transform="translate(327.60,803.70)" text-anchor="middle" font-size="13.5" letter-spacing="0.7">**</text>
<text transform="translate(138.50,860.00) rotate(-90)" text-anchor="middle" font-size="15.5">pg/ml</text>
<line x1="502.25" y1="935.90" x2="502.25" y2="930.90" stroke="#000" stroke-width="2.0" stroke-linecap="butt"/>
<line x1="498.05" y1="930.90" x2="506.45" y2="930.90" stroke="#000" stroke-width="2.0" stroke-linecap="butt"/>
<rect x="494.70" y="935.90" width="15.10" height="14.10" fill="#000"/>
<line x1="523.20" y1="943.50" x2="523.20" y2="942.00" stroke="#000" stroke-width="2.0" stroke-linecap="butt"/>
<line x1="519.00" y1="942.00" x2="527.40" y2="942.00" stroke="#000" stroke-width="2.0" stroke-linecap="butt"/>
<rect x="515.55" y="944.45" width="15.30" height="5.55" fill="#fff" stroke="#000" stroke-width="1.9"/>
<line x1="558.00" y1="934.80" x2="558.00" y2="925.50" stroke="#000" stroke-width="2.0" stroke-linecap="butt"/>
<line x1="553.80" y1="925.50" x2="562.20" y2="925.50" stroke="#000" stroke-width="2.0" stroke-linecap="butt"/>
<rect x="550.45" y="934.80" width="15.10" height="15.20" fill="#000"/>
<line x1="578.95" y1="942.00" x2="578.95" y2="939.80" stroke="#000" stroke-width="2.0" stroke-linecap="butt"/>
<line x1="574.75" y1="939.80" x2="583.15" y2="939.80" stroke="#000" stroke-width="2.0" stroke-linecap="butt"/>
<rect x="571.30" y="942.95" width="15.30" height="7.05" fill="#fff" stroke="#000" stroke-width="1.9"/>
<line x1="613.95" y1="928.80" x2="613.95" y2="920.80" stroke="#000" stroke-width="2.0" stroke-linecap="butt"/>
<line x1="609.75" y1="920.80" x2="618.15" y2="920.80" stroke="#000" stroke-width="2.0" stroke-linecap="butt"/>
<rect x="606.40" y="928.80" width="15.10" height="21.20" fill="#000"/>
<line x1="634.90" y1="908.40" x2="634.90" y2="896.90" stroke="#000" stroke-width="2.0" stroke-linecap="butt"/>
<line x1="630.70" y1="896.90" x2="639.10" y2="896.90" stroke="#000" stroke-width="2.0" stroke-linecap="butt"/>
<rect x="627.25" y="909.35" width="15.30" height="40.65" fill="#fff" stroke="#000" stroke-width="1.9"/>
<line x1="670.40" y1="890.90" x2="670.40" y2="879.60" stroke="#000" stroke-width="2.0" stroke-linecap="butt"/>
<line x1="666.20" y1="879.60" x2="674.60" y2="879.60" stroke="#000" stroke-width="2.0" stroke-linecap="butt"/>
<rect x="662.85" y="890.90" width="15.10" height="59.10" fill="#000"/>
<line x1="691.35" y1="829.20" x2="691.35" y2="814.20" stroke="#000" stroke-width="2.0" stroke-linecap="butt"/>
<line x1="687.15" y1="814.20" x2="695.55" y2="814.20" stroke="#000" stroke-width="2.0" stroke-linecap="butt"/>
<rect x="683.70" y="830.15" width="15.30" height="119.85" fill="#fff" stroke="#000" stroke-width="1.9"/>
<line x1="484.80" y1="795.30" x2="484.80" y2="951.00" stroke="#000" stroke-width="2.0" stroke-linecap="butt"/>
<line x1="483.80" y1="950.00" x2="708.80" y2="950.00" stroke="#000" stroke-width="2.0" stroke-linecap="butt"/>
<line x1="478.80" y1="950.00" x2="484.80" y2="950.00" stroke="#000" stroke-width="2.0" stroke-linecap="butt"/>
<text transform="translate(476.30,957.75)" text-anchor="end" font-size="15.6">0</text>
<line x1="478.80" y1="930.79" x2="484.80" y2="930.79" stroke="#000" stroke-width="2.0" stroke-linecap="butt"/>
<text transform="translate(476.30,938.32)" text-anchor="end" font-size="15.6">2000</text>
<line x1="478.80" y1="911.58" x2="484.80" y2="911.58" stroke="#000" stroke-width="2.0" stroke-linecap="butt"/>
<text transform="translate(476.30,918.90)" text-anchor="end" font-size="15.6">4000</text>
<line x1="478.80" y1="892.36" x2="484.80" y2="892.36" stroke="#000" stroke-width="2.0" stroke-linecap="butt"/>
<text transform="translate(476.30,899.47)" text-anchor="end" font-size="15.6">6000</text>
<line x1="478.80" y1="873.15" x2="484.80" y2="873.15" stroke="#000" stroke-width="2.0" stroke-linecap="butt"/>
<text transform="translate(476.30,880.05)" text-anchor="end" font-size="15.6">8000</text>
<line x1="478.80" y1="853.94" x2="484.80" y2="853.94" stroke="#000" stroke-width="2.0" stroke-linecap="butt"/>
<text transform="translate(476.30,860.62)" text-anchor="end" font-size="15.6">10000</text>
<line x1="478.80" y1="834.72" x2="484.80" y2="834.72" stroke="#000" stroke-width="2.0" stroke-linecap="butt"/>
<text transform="translate(476.30,841.20)" text-anchor="end" font-size="15.6">12000</text>
<line x1="478.80" y1="815.51" x2="484.80" y2="815.51" stroke="#000" stroke-width="2.0" stroke-linecap="butt"/>
<text transform="translate(476.30,821.77)" text-anchor="end" font-size="15.6">14000</text>
<line x1="478.80" y1="796.30" x2="484.80" y2="796.30" stroke="#000" stroke-width="2.0" stroke-linecap="butt"/>
<text transform="translate(476.30,802.35)" text-anchor="end" font-size="15.6">16000</text>
<line x1="512.67" y1="950.00" x2="512.67" y2="955.60" stroke="#000" stroke-width="2.0" stroke-linecap="butt"/>
<text transform="translate(512.27,971.60)" text-anchor="middle" font-size="15.6">day 1</text>
<line x1="568.42" y1="950.00" x2="568.42" y2="955.60" stroke="#000" stroke-width="2.0" stroke-linecap="butt"/>
<text transform="translate(568.77,971.60)" text-anchor="middle" font-size="15.6">day 2</text>
<line x1="624.17" y1="950.00" x2="624.17" y2="955.60" stroke="#000" stroke-width="2.0" stroke-linecap="butt"/>
<text transform="translate(625.27,971.60)" text-anchor="middle" font-size="15.6">day 3</text>
<line x1="679.92" y1="950.00" x2="679.92" y2="955.60" stroke="#000" stroke-width="2.0" stroke-linecap="butt"/>
<text transform="translate(681.77,971.60)" text-anchor="middle" font-size="15.6">day 4</text>
<text transform="translate(428.10,860.00) rotate(-90)" text-anchor="middle" font-size="15.5">pg/ml</text>
<line x1="210.45" y1="1042.00" x2="210.45" y2="1035.90" stroke="#000" stroke-width="2.0" stroke-linecap="butt"/>
<line x1="206.25" y1="1035.90" x2="214.65" y2="1035.90" stroke="#000" stroke-width="2.0" stroke-linecap="butt"/>
<rect x="202.90" y="1042.00" width="15.10" height="119.10" fill="#000"/>
<line x1="231.40" y1="1059.30" x2="231.40" y2="1031.10" stroke="#000" stroke-width="2.0" stroke-linecap="butt"/>
<line x1="227.20" y1="1031.10" x2="235.60" y2="1031.10" stroke="#000" stroke-width="2.0" stroke-linecap="butt"/>
<rect x="223.75" y="1060.25" width="15.30" height="100.85" fill="#fff" stroke="#000" stroke-width="1.9"/>
<line x1="266.20" y1="1128.60" x2="266.20" y2="1121.00" stroke="#000" stroke-width="2.0" stroke-linecap="butt"/>
<line x1="262.00" y1="1121.00" x2="270.40" y2="1121.00" stroke="#000" stroke-width="2.0" stroke-linecap="butt"/>
<rect x="258.65" y="1128.60" width="15.10" height="32.50" fill="#000"/>
<line x1="287.15" y1="1144.40" x2="287.15" y2="1140.90" stroke="#000" stroke-width="2.0" stroke-linecap="butt"/>
<line x1="282.95" y1="1140.90" x2="291.35" y2="1140.90" stroke="#000" stroke-width="2.0" stroke-linecap="butt"/>
<rect x="279.50" y="1145.35" width="15.30" height="15.75" fill="#fff" stroke="#000" stroke-width="1.9"/>
<line x1="321.95" y1="1147.00" x2="321.95" y2="1145.50" stroke="#000" stroke-width="2.0" stroke-linecap="butt"/>
<line x1="317.75" y1="1145.50" x2="326.15" y2="1145.50" stroke="#000" stroke-width="2.0" stroke-linecap="butt"/>
<rect x="314.40" y="1147.00" width="15.10" height="14.10" fill="#000"/>
<line x1="342.90" y1="1064.70" x2="342.90" y2="1014.90" stroke="#000" stroke-width="2.0" stroke-linecap="butt"/>
<line x1="338.70" y1="1014.90" x2="347.10" y2="1014.90" stroke="#000" stroke-width="2.0" stroke-linecap="butt"/>
<rect x="335.25" y="1065.65" width="15.30" height="95.45" fill="#fff" stroke="#000" stroke-width="1.9"/>
<line x1="377.70" y1="1126.90" x2="377.70" y2="1119.50" stroke="#000" stroke-width="2.0" stroke-linecap="butt"/>
<line x1="373.50" y1="1119.50" x2="381.90" y2="1119.50" stroke="#000" stroke-width="2.0" stroke-linecap="butt"/>
<rect x="370.15" y="1126.90" width="15.10" height="34.20" fill="#000"/>
<line x1="398.65" y1="1154.60" x2="398.65" y2="1152.90" stroke="#000" stroke-width="2.0" stroke-linecap="butt"/>
<line x1="394.45" y1="1152.90" x2="402.85" y2="1152.90" stroke="#000" stroke-width="2.0" stroke-linecap="butt"/>
<rect x="391.00" y="1155.55" width="15.30" height="5.55" fill="#fff" stroke="#000" stroke-width="1.9"/>
<line x1="193.00" y1="1006.10" x2="193.00" y2="1162.10" stroke="#000" stroke-width="2.0" stroke-linecap="butt"/>
<line x1="192.00" y1="1161.10" x2="417.00" y2="1161.10" stroke="#000" stroke-width="2.0" stroke-linecap="butt"/>
<line x1="187.00" y1="1161.10" x2="193.00" y2="1161.10" stroke="#000" stroke-width="2.0" stroke-linecap="butt"/>
<text transform="translate(185.00,1168.85)" text-anchor="end" font-size="15.6">0</text>
<line x1="187.00" y1="1141.85" x2="193.00" y2="1141.85" stroke="#000" stroke-width="2.0" stroke-linecap="butt"/>
<text transform="translate(185.00,1149.39)" text-anchor="end" font-size="15.6">1000</text>
<line x1="187.00" y1="1122.60" x2="193.00" y2="1122.60" stroke="#000" stroke-width="2.0" stroke-linecap="butt"/>
<text transform="translate(185.00,1129.92)" text-anchor="end" font-size="15.6">2000</text>
<line x1="187.00" y1="1103.35" x2="193.00" y2="1103.35" stroke="#000" stroke-width="2.0" stroke-linecap="butt"/>
<text transform="translate(185.00,1110.46)" text-anchor="end" font-size="15.6">3000</text>
<line x1="187.00" y1="1084.10" x2="193.00" y2="1084.10" stroke="#000" stroke-width="2.0" stroke-linecap="butt"/>
<text transform="translate(185.00,1091.00)" text-anchor="end" font-size="15.6">4000</text>
<line x1="187.00" y1="1064.85" x2="193.00" y2="1064.85" stroke="#000" stroke-width="2.0" stroke-linecap="butt"/>
<text transform="translate(185.00,1071.54)" text-anchor="end" font-size="15.6">5000</text>
<line x1="187.00" y1="1045.60" x2="193.00" y2="1045.60" stroke="#000" stroke-width="2.0" stroke-linecap="butt"/>
<text transform="translate(185.00,1052.07)" text-anchor="end" font-size="15.6">6000</text>
<line x1="187.00" y1="1026.35" x2="193.00" y2="1026.35" stroke="#000" stroke-width="2.0" stroke-linecap="butt"/>
<text transform="translate(185.00,1032.61)" text-anchor="end" font-size="15.6">7000</text>
<line x1="187.00" y1="1007.10" x2="193.00" y2="1007.10" stroke="#000" stroke-width="2.0" stroke-linecap="butt"/>
<text transform="translate(185.00,1013.15)" text-anchor="end" font-size="15.6">8000</text>
<line x1="220.88" y1="1161.10" x2="220.88" y2="1166.70" stroke="#000" stroke-width="2.0" stroke-linecap="butt"/>
<text transform="translate(220.47,1182.70)" text-anchor="middle" font-size="15.6">day 1</text>
<line x1="276.62" y1="1161.10" x2="276.62" y2="1166.70" stroke="#000" stroke-width="2.0" stroke-linecap="butt"/>
<text transform="translate(276.98,1182.70)" text-anchor="middle" font-size="15.6">day 2</text>
<line x1="332.38" y1="1161.10" x2="332.38" y2="1166.70" stroke="#000" stroke-width="2.0" stroke-linecap="butt"/>
<text transform="translate(333.48,1182.70)" text-anchor="middle" font-size="15.6">day 3</text>
<line x1="388.12" y1="1161.10" x2="388.12" y2="1166.70" stroke="#000" stroke-width="2.0" stroke-linecap="butt"/>
<text transform="translate(389.98,1182.70)" text-anchor="middle" font-size="15.6">day 4</text>
<text transform="translate(330.90,1012.00)" text-anchor="middle" font-size="13.5" letter-spacing="0.7">**</text>
<text transform="translate(138.50,1081.70) rotate(-90)" text-anchor="middle" font-size="15.5">pg/ml</text>
<line x1="502.25" y1="1101.10" x2="502.25" y2="1086.40" stroke="#000" stroke-width="2.0" stroke-linecap="butt"/>
<line x1="498.05" y1="1086.40" x2="506.45" y2="1086.40" stroke="#000" stroke-width="2.0" stroke-linecap="butt"/>
<rect x="494.70" y="1101.10" width="15.10" height="60.00" fill="#000"/>
<line x1="523.20" y1="1120.60" x2="523.20" y2="1106.50" stroke="#000" stroke-width="2.0" stroke-linecap="butt"/>
<line x1="519.00" y1="1106.50" x2="527.40" y2="1106.50" stroke="#000" stroke-width="2.0" stroke-linecap="butt"/>
<rect x="515.55" y="1121.55" width="15.30" height="39.55" fill="#fff" stroke="#000" stroke-width="1.9"/>
<line x1="558.00" y1="1152.40" x2="558.00" y2="1149.60" stroke="#000" stroke-width="2.0" stroke-linecap="butt"/>
<line x1="553.80" y1="1149.60" x2="562.20" y2="1149.60" stroke="#000" stroke-width="2.0" stroke-linecap="butt"/>
<rect x="550.45" y="1152.40" width="15.10" height="8.70" fill="#000"/>
<line x1="578.95" y1="1156.10" x2="578.95" y2="1155.40" stroke="#000" stroke-width="2.0" stroke-linecap="butt"/>
<line x1="574.75" y1="1155.40" x2="583.15" y2="1155.40" stroke="#000" stroke-width="2.0" stroke-linecap="butt"/>
<rect x="571.30" y="1157.05" width="15.30" height="4.05" fill="#fff" stroke="#000" stroke-width="1.9"/>
<line x1="613.95" y1="1143.80" x2="613.95" y2="1138.30" stroke="#000" stroke-width="2.0" stroke-linecap="butt"/>
<line x1="609.75" y1="1138.30" x2="618.15" y2="1138.30" stroke="#000" stroke-width="2.0" stroke-linecap="butt"/>
<rect x="606.40" y="1143.80" width="15.10" height="17.30" fill="#000"/>
<line x1="634.90" y1="1108.00" x2="634.90" y2="1087.90" stroke="#000" stroke-width="2.0" stroke-linecap="butt"/>
<line x1="630.70" y1="1087.90" x2="639.10" y2="1087.90" stroke="#000" stroke-width="2.0" stroke-linecap="butt"/>
<rect x="627.25" y="1108.95" width="15.30" height="52.15" fill="#fff" stroke="#000" stroke-width="1.9"/>
<line x1="670.40" y1="1070.60" x2="670.40" y2="1011.70" stroke="#000" stroke-width="2.0" stroke-linecap="butt"/>
<line x1="666.20" y1="1011.70" x2="674.60" y2="1011.70" stroke="#000" stroke-width="2.0" stroke-linecap="butt"/>
<rect x="662.85" y="1070.60" width="15.10" height="90.50" fill="#000"/>
<line x1="691.35" y1="1116.30" x2="691.35" y2="1091.40" stroke="#000" stroke-width="2.0" stroke-linecap="butt"/>
<line x1="687.15" y1="1091.40" x2="695.55" y2="1091.40" stroke="#000" stroke-width="2.0" stroke-linecap="butt"/>
<rect x="683.70" y="1117.25" width="15.30" height="43.85" fill="#fff" stroke="#000" stroke-width="1.9"/>
<line x1="484.80" y1="1006.10" x2="484.80" y2="1162.10" stroke="#000" stroke-width="2.0" stroke-linecap="butt"/>
<line x1="483.80" y1="1161.10" x2="708.80" y2="1161.10" stroke="#000" stroke-width="2.0" stroke-linecap="butt"/>
<line x1="478.80" y1="1161.10" x2="484.80" y2="1161.10" stroke="#000" stroke-width="2.0" stroke-linecap="butt"/>
<text transform="translate(476.30,1168.85)" text-anchor="end" font-size="15.6">0</text>
<line x1="478.80" y1="1122.60" x2="484.80" y2="1122.60" stroke="#000" stroke-width="2.0" stroke-linecap="butt"/>
<text transform="translate(476.30,1129.92)" text-anchor="end" font-size="15.6">5000</text>
<line x1="478.80" y1="1084.10" x2="484.80" y2="1084.10" stroke="#000" stroke-width="2.0" stroke-linecap="butt"/>
<text transform="translate(476.30,1091.00)" text-anchor="end" font-size="15.6">10000</text>
<line x1="478.80" y1="1045.60" x2="484.80" y2="1045.60" stroke="#000" stroke-width="2.0" stroke-linecap="butt"/>
<text transform="translate(476.30,1052.07)" text-anchor="end" font-size="15.6">15000</text>
<line x1="478.80" y1="1007.10" x2="484.80" y2="1007.10" stroke="#000" stroke-width="2.0" stroke-linecap="butt"/>
<text transform="translate(476.30,1013.15)" text-anchor="end" font-size="15.6">20000</text>
<line x1="512.67" y1="1161.10" x2="512.67" y2="1166.70" stroke="#000" stroke-width="2.0" stroke-linecap="butt"/>
<text transform="translate(512.27,1182.70)" text-anchor="middle" font-size="15.6">day 1</text>
<line x1="568.42" y1="1161.10" x2="568.42" y2="1166.70" stroke="#000" stroke-width="2.0" stroke-linecap="butt"/>
<text transform="translate(568.77,1182.70)" text-anchor="middle" font-size="15.6">day 2</text>
<line x1="624.17" y1="1161.10" x2="624.17" y2="1166.70" stroke="#000" stroke-width="2.0" stroke-linecap="butt"/>
<text transform="translate(625.27,1182.70)" text-anchor="middle" font-size="15.6">day 3</text>
<line x1="679.92" y1="1161.10" x2="679.92" y2="1166.70" stroke="#000" stroke-width="2.0" stroke-linecap="butt"/>
<text transform="translate(681.77,1182.70)" text-anchor="middle" font-size="15.6">day 4</text>
<text transform="translate(428.10,1081.70) rotate(-90)" text-anchor="middle" font-size="15.5">pg/ml</text>
<line x1="210.45" y1="1351.30" x2="210.45" y2="1350.50" stroke="#000" stroke-width="2.0" stroke-linecap="butt"/>
<line x1="206.25" y1="1350.50" x2="214.65" y2="1350.50" stroke="#000" stroke-width="2.0" stroke-linecap="butt"/>
<rect x="202.90" y="1351.30" width="15.10" height="7.60" fill="#000"/>
<line x1="231.40" y1="1347.00" x2="231.40" y2="1344.20" stroke="#000" stroke-width="2.0" stroke-linecap="butt"/>
<line x1="227.20" y1="1344.20" x2="235.60" y2="1344.20" stroke="#000" stroke-width="2.0" stroke-linecap="butt"/>
<rect x="223.75" y="1347.95" width="15.30" height="10.95" fill="#fff" stroke="#000" stroke-width="1.9"/>
<line x1="266.20" y1="1349.80" x2="266.20" y2="1349.00" stroke="#000" stroke-width="2.0" stroke-linecap="butt"/>
<line x1="262.00" y1="1349.00" x2="270.40" y2="1349.00" stroke="#000" stroke-width="2.0" stroke-linecap="butt"/>
<rect x="258.65" y="1349.80" width="15.10" height="9.10" fill="#000"/>
<line x1="287.15" y1="1352.90" x2="287.15" y2="1350.70" stroke="#000" stroke-width="2.0" stroke-linecap="butt"/>
<line x1="282.95" y1="1350.70" x2="291.35" y2="1350.70" stroke="#000" stroke-width="2.0" stroke-linecap="butt"/>
<rect x="279.50" y="1353.85" width="15.30" height="5.05" fill="#fff" stroke="#000" stroke-width="1.9"/>
<line x1="321.95" y1="1356.80" x2="321.95" y2="1356.20" stroke="#000" stroke-width="2.0" stroke-linecap="butt"/>
<line x1="317.75" y1="1356.20" x2="326.15" y2="1356.20" stroke="#000" stroke-width="2.0" stroke-linecap="butt"/>
<rect x="314.40" y="1356.80" width="15.10" height="2.10" fill="#000"/>
<line x1="342.90" y1="1257.10" x2="342.90" y2="1216.00" stroke="#000" stroke-width="2.0" stroke-linecap="butt"/>
<line x1="338.70" y1="1216.00" x2="347.10" y2="1216.00" stroke="#000" stroke-width="2.0" stroke-linecap="butt"/>
<rect x="335.25" y="1258.05" width="15.30" height="100.85" fill="#fff" stroke="#000" stroke-width="1.9"/>
<line x1="377.70" y1="1308.00" x2="377.70" y2="1285.90" stroke="#000" stroke-width="2.0" stroke-linecap="butt"/>
<line x1="373.50" y1="1285.90" x2="381.90" y2="1285.90" stroke="#000" stroke-width="2.0" stroke-linecap="butt"/>
<rect x="370.15" y="1308.00" width="15.10" height="50.90" fill="#000"/>
<line x1="193.00" y1="1204.00" x2="193.00" y2="1359.90" stroke="#000" stroke-width="2.0" stroke-linecap="butt"/>
<line x1="192.00" y1="1358.90" x2="417.00" y2="1358.90" stroke="#000" stroke-width="2.0" stroke-linecap="butt"/>
<line x1="187.00" y1="1358.90" x2="193.00" y2="1358.90" stroke="#000" stroke-width="2.0" stroke-linecap="butt"/>
<text transform="translate(185.00,1366.65)" text-anchor="end" font-size="15.6">0</text>
<line x1="187.00" y1="1320.43" x2="193.00" y2="1320.43" stroke="#000" stroke-width="2.0" stroke-linecap="butt"/>
<text transform="translate(185.00,1327.75)" text-anchor="end" font-size="15.6">2500</text>
<line x1="187.00" y1="1281.95" x2="193.00" y2="1281.95" stroke="#000" stroke-width="2.0" stroke-linecap="butt"/>
<text transform="translate(185.00,1288.85)" text-anchor="end" font-size="15.6">5000</text>
<line x1="187.00" y1="1243.47" x2="193.00" y2="1243.47" stroke="#000" stroke-width="2.0" stroke-linecap="butt"/>
<text transform="translate(185.00,1249.95)" text-anchor="end" font-size="15.6">7500</text>
<line x1="187.00" y1="1205.00" x2="193.00" y2="1205.00" stroke="#000" stroke-width="2.0" stroke-linecap="butt"/>
<text transform="translate(185.00,1211.05)" text-anchor="end" font-size="15.6">10000</text>
<line x1="220.88" y1="1358.90" x2="220.88" y2="1364.50" stroke="#000" stroke-width="2.0" stroke-linecap="butt"/>
<text transform="translate(220.47,1380.50)" text-anchor="middle" font-size="15.6">day 1</text>
<line x1="276.62" y1="1358.90" x2="276.62" y2="1364.50" stroke="#000" stroke-width="2.0" stroke-linecap="butt"/>
<text transform="translate(276.98,1380.50)" text-anchor="middle" font-size="15.6">day 2</text>
<line x1="332.38" y1="1358.90" x2="332.38" y2="1364.50" stroke="#000" stroke-width="2.0" stroke-linecap="butt"/>
<text transform="translate(333.48,1380.50)" text-anchor="middle" font-size="15.6">day 3</text>
<line x1="388.12" y1="1358.90" x2="388.12" y2="1364.50" stroke="#000" stroke-width="2.0" stroke-linecap="butt"/>
<text transform="translate(389.98,1380.50)" text-anchor="middle" font-size="15.6">day 4</text>
<text transform="translate(330.90,1213.10)" text-anchor="middle" font-size="13.5" letter-spacing="0.7">**</text>
<text transform="translate(138.50,1272.70) rotate(-90)" text-anchor="middle" font-size="15.5">pg/ml</text>
<line x1="503.45" y1="1356.00" x2="503.45" y2="1355.20" stroke="#000" stroke-width="2.0" stroke-linecap="butt"/>
<line x1="499.25" y1="1355.20" x2="507.65" y2="1355.20" stroke="#000" stroke-width="2.0" stroke-linecap="butt"/>
<rect x="495.90" y="1356.00" width="15.10" height="2.90" fill="#000"/>
<rect x="516.75" y="1357.95" width="15.30" height="0.95" fill="#fff" stroke="#000" stroke-width="1.9"/>
<line x1="559.20" y1="1356.80" x2="559.20" y2="1356.20" stroke="#000" stroke-width="2.0" stroke-linecap="butt"/>
<line x1="555.00" y1="1356.20" x2="563.40" y2="1356.20" stroke="#000" stroke-width="2.0" stroke-linecap="butt"/>
<rect x="551.65" y="1356.80" width="15.10" height="2.10" fill="#000"/>
<rect x="572.50" y="1357.95" width="15.30" height="0.95" fill="#fff" stroke="#000" stroke-width="1.9"/>
<line x1="614.95" y1="1344.40" x2="614.95" y2="1341.60" stroke="#000" stroke-width="2.0" stroke-linecap="butt"/>
<line x1="610.75" y1="1341.60" x2="619.15" y2="1341.60" stroke="#000" stroke-width="2.0" stroke-linecap="butt"/>
<rect x="607.40" y="1344.40" width="15.10" height="14.50" fill="#000"/>
<line x1="635.90" y1="1288.80" x2="635.90" y2="1270.80" stroke="#000" stroke-width="2.0" stroke-linecap="butt"/>
<line x1="631.70" y1="1270.80" x2="640.10" y2="1270.80" stroke="#000" stroke-width="2.0" stroke-linecap="butt"/>
<rect x="628.25" y="1289.75" width="15.30" height="69.15" fill="#fff" stroke="#000" stroke-width="1.9"/>
<line x1="670.70" y1="1319.30" x2="670.70" y2="1313.00" stroke="#000" stroke-width="2.0" stroke-linecap="butt"/>
<line x1="666.50" y1="1313.00" x2="674.90" y2="1313.00" stroke="#000" stroke-width="2.0" stroke-linecap="butt"/>
<rect x="663.15" y="1319.30" width="15.10" height="39.60" fill="#000"/>
<line x1="691.65" y1="1237.60" x2="691.65" y2="1211.70" stroke="#000" stroke-width="2.0" stroke-linecap="butt"/>
<line x1="687.45" y1="1211.70" x2="695.85" y2="1211.70" stroke="#000" stroke-width="2.0" stroke-linecap="butt"/>
<rect x="684.00" y="1238.55" width="15.30" height="120.35" fill="#fff" stroke="#000" stroke-width="1.9"/>
<line x1="486.00" y1="1204.00" x2="486.00" y2="1359.90" stroke="#000" stroke-width="2.0" stroke-linecap="butt"/>
<line x1="485.00" y1="1358.90" x2="710.00" y2="1358.90" stroke="#000" stroke-width="2.0" stroke-linecap="butt"/>
<line x1="480.00" y1="1358.90" x2="486.00" y2="1358.90" stroke="#000" stroke-width="2.0" stroke-linecap="butt"/>
<text transform="translate(478.80,1366.65)" text-anchor="end" font-size="15.6">0</text>
<line x1="480.00" y1="1339.66" x2="486.00" y2="1339.66" stroke="#000" stroke-width="2.0" stroke-linecap="butt"/>
<text transform="translate(478.80,1347.20)" text-anchor="end" font-size="15.6">1000</text>
<line x1="480.00" y1="1320.43" x2="486.00" y2="1320.43" stroke="#000" stroke-width="2.0" stroke-linecap="butt"/>
<text transform="translate(478.80,1327.75)" text-anchor="end" font-size="15.6">2000</text>
<line x1="480.00" y1="1301.19" x2="486.00" y2="1301.19" stroke="#000" stroke-width="2.0" stroke-linecap="butt"/>
<text transform="translate(478.80,1308.30)" text-anchor="end" font-size="15.6">3000</text>
<line x1="480.00" y1="1281.95" x2="486.00" y2="1281.95" stroke="#000" stroke-width="2.0" stroke-linecap="butt"/>
<text transform="translate(478.80,1288.85)" text-anchor="end" font-size="15.6">4000</text>
<line x1="480.00" y1="1262.71" x2="486.00" y2="1262.71" stroke="#000" stroke-width="2.0" stroke-linecap="butt"/>
<text transform="translate(478.80,1269.40)" text-anchor="end" font-size="15.6">5000</text>
<line x1="480.00" y1="1243.47" x2="486.00" y2="1243.47" stroke="#000" stroke-width="2.0" stroke-linecap="butt"/>
<text transform="translate(478.80,1249.95)" text-anchor="end" font-size="15.6">6000</text>
<line x1="480.00" y1="1224.24" x2="486.00" y2="1224.24" stroke="#000" stroke-width="2.0" stroke-linecap="butt"/>
<text transform="translate(478.80,1230.50)" text-anchor="end" font-size="15.6">7000</text>
<line x1="480.00" y1="1205.00" x2="486.00" y2="1205.00" stroke="#000" stroke-width="2.0" stroke-linecap="butt"/>
<text transform="translate(478.80,1211.05)" text-anchor="end" font-size="15.6">8000</text>
<line x1="513.88" y1="1358.90" x2="513.88" y2="1364.50" stroke="#000" stroke-width="2.0" stroke-linecap="butt"/>
<text transform="translate(513.48,1380.50)" text-anchor="middle" font-size="15.6">day 1</text>
<line x1="569.62" y1="1358.90" x2="569.62" y2="1364.50" stroke="#000" stroke-width="2.0" stroke-linecap="butt"/>
<text transform="translate(569.98,1380.50)" text-anchor="middle" font-size="15.6">day 2</text>
<line x1="625.38" y1="1358.90" x2="625.38" y2="1364.50" stroke="#000" stroke-width="2.0" stroke-linecap="butt"/>
<text transform="translate(626.48,1380.50)" text-anchor="middle" font-size="15.6">day 3</text>
<line x1="681.12" y1="1358.90" x2="681.12" y2="1364.50" stroke="#000" stroke-width="2.0" stroke-linecap="butt"/>
<text transform="translate(682.98,1380.50)" text-anchor="middle" font-size="15.6">day 4</text>
<text transform="translate(573.80,1345.80)" text-anchor="middle" font-size="13.5" letter-spacing="0.7">*</text>
<text transform="translate(623.90,1263.50)" text-anchor="middle" font-size="13.5" letter-spacing="0.7">*</text>
<text transform="translate(429.60,1272.70) rotate(-90)" text-anchor="middle" font-size="15.5">pg/ml</text>
</g>
</svg>
</body>
</html>
